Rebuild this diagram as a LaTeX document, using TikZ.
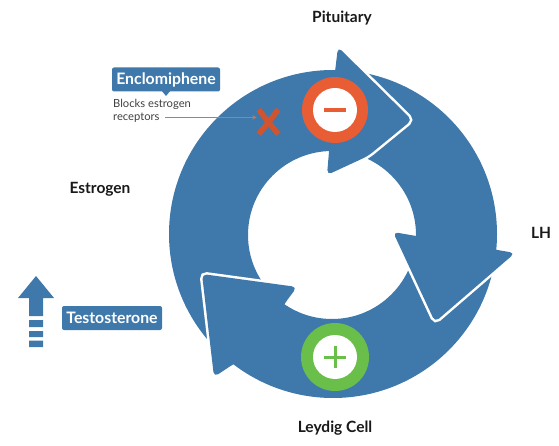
\documentclass[tikz,border=0pt]{standalone}
\usepackage{fontspec}
\usetikzlibrary{shapes.misc}
\setmainfont{Lato}
\definecolor{ringblue}{HTML}{3F79AB}
\definecolor{minusred}{HTML}{E85D34}
\definecolor{plusgreen}{HTML}{6ABF4B}
\definecolor{pointer}{HTML}{C9735A}
\tikzset{
	head/.style={fill=ringblue,rounded corners=5},
	edge/.style={draw=white,line width=5,rounded corners=5},
	badge/.style={fill=ringblue,rounded corners=2,text=white,font=\fontsize{15.8}{16}\selectfont\bfseries,inner sep=0,minimum height=24},
	lbl/.style={font=\fontsize{15.5}{16}\selectfont\bfseries,text=black!90},
	note/.style={font=\fontsize{11.2}{12}\selectfont,text=black!75,inner sep=0,anchor=west},
}
\begin{document}
\begin{tikzpicture}[x=1pt,y=-1pt]
	\useasboundingbox (0,0) rectangle (559,446);
	% ring
	\fill[ringblue,even odd rule] (333,234) circle (164) (332,235) circle (84);
	% arrow heads
	\draw[edge] (338,47)--(412,120)--(368,156)--(327,175);
	\fill[head] (334,80)--(338,47)--(412,120)--(368,156)--(327,175)--(330,140)--cycle;
	\draw[edge] (515,253)--(435,322)--(393,232);
	\fill[head] (393,232)--(515,253)--(435,322)--cycle;
	\draw[edge] (214,377)--(202,274)--(297,287);
	\fill[head] (232,365)--(214,377)--(202,274)--(297,287)--(285,303)--(260,350)--cycle;
	% up arrow
	\fill[ringblue] (36,276)--(54,298)--(43,298)--(43,316)--(29,316)--(29,298)--(18,298)--cycle;
	\fill[ringblue] (29,320) rectangle (43,327) (29,331) rectangle (43,337) (29,340.5) rectangle (43,347);
	\fill[ringblue] (161,90)--(171,90)--(166,96)--cycle;
	\path
	(335,110) node[circle,fill=minusred,minimum size=66,inner sep=0](minus){}
	(335,110) node[circle,fill=white,minimum size=44,inner sep=0](minusin){}
	(335,357) node[circle,fill=plusgreen,minimum size=68,inner sep=0](plus){}
	(335,357) node[circle,fill=white,minimum size=44,inner sep=0](plusin){}
	(342,18) node[lbl](pit){Pituitary}
	(100,189) node[lbl](est){Estrogen}
	(541,233) node[lbl](lh){LH}
	(335,428) node[lbl](ley){Leydig Cell}
	(166,79.5) node[badge,minimum width=108](enc){Enclomiphene}
	(112,318) node[badge,minimum width=100](tes){Testosterone}
	(113,104) node[note](blk){Blocks estrogen}
	(113,117.5) node[note](rec){receptors}
	(268.5,122) node[cross out,draw=minusred!90!black,line width=5.5,minimum width=14,minimum height=19,inner sep=0](xm){}
	;
	\draw[-stealth,pointer,line width=1,shorten <=5,shorten >=2] (rec.east)--(xm.west|-rec.east);
	\draw[minusred,line width=3.5] (minus.center)++(-11,0)--++(22,0);
	\draw[plusgreen,line width=3] (plus.center)++(-11,0)--++(22,0);
	\draw[plusgreen,line width=3] (plus.center)++(0,-11)--++(0,22);
\end{tikzpicture}
\end{document}
